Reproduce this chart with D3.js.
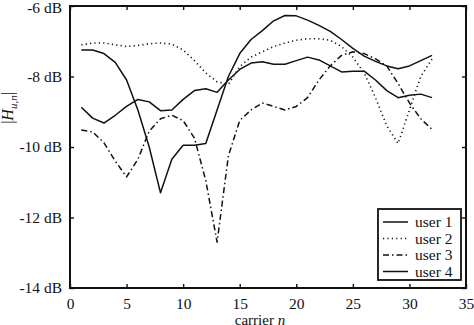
<!DOCTYPE html>
<html>
<head>
<meta charset="utf-8">
<script src="https://cdn.jsdelivr.net/npm/d3@7/dist/d3.min.js"></script>
<style>
  html, body { margin: 0; padding: 0; background: #fff; }
  svg { display: block; }
</style>
</head>
<body>
<svg id="chart" width="474" height="325"></svg>
<script>
// Carrier index 1..32
const carriers = d3.range(1, 33);

// Channel magnitude |H_{u,n}| in dB per carrier, one array per user
const user1 = [-7.25, -7.25, -7.35, -7.6, -8.1, -8.95, -10.0, -11.3, -10.35, -9.95,
               -9.95, -9.9, -8.95, -8.0, -7.35, -6.95, -6.7, -6.42, -6.27, -6.28,
               -6.4, -6.55, -6.72, -6.95, -7.2, -7.42, -7.57, -7.7, -7.78, -7.7,
               -7.55, -7.4];
const user2 = [-7.1, -7.05, -7.05, -7.1, -7.15, -7.12, -7.07, -7.05, -7.08, -7.25,
               -7.55, -7.9, -8.15, -8.22, -7.72, -7.45, -7.3, -7.15, -7.05, -6.97,
               -6.93, -6.93, -6.97, -7.15, -7.45, -7.9, -8.6, -9.4, -9.9, -8.95,
               -8.0, -7.5];
const user3 = [-9.52, -9.57, -9.88, -10.4, -10.85, -10.35, -9.55, -9.2, -9.1, -9.25,
               -9.75, -10.95, -12.7, -10.25, -9.25, -8.95, -8.75, -8.85, -8.95, -8.85,
               -8.6, -8.1, -7.7, -7.4, -7.3, -7.35, -7.5, -7.7, -8.2, -8.75,
               -9.2, -9.5];
const user4 = [-8.87, -9.18, -9.32, -9.1, -8.85, -8.65, -8.72, -8.97, -8.95, -8.65,
               -8.4, -8.35, -8.45, -8.1, -7.8, -7.62, -7.58, -7.65, -7.65, -7.55,
               -7.45, -7.53, -7.7, -7.87, -7.85, -7.85, -8.1, -8.4, -8.6, -8.53,
               -8.5, -8.6];

const seriesNames = ["user 1", "user 2", "user 3", "user 4"];
const seriesValues = [user1, user2, user3, user4];

const xTicks = [0, 5, 10, 15, 20, 25, 30, 35];
const yTicks = [-6, -8, -10, -12, -14];
const yTickLabels = ["-6 dB", "-8 dB", "-10 dB", "-12 dB", "-14 dB"];

// line dash style per user
const dashes = [null, "1.2,3.2", "6,3,1.5,3", null];

const FONT = "\"Liberation Serif\"";

const svg = d3.select("#chart");
const m = { left: 70, right: 8, top: 6, bottom: 37 };
const W = 474, H = 325;
const iw = W - m.left - m.right, ih = H - m.top - m.bottom;

const x = d3.scaleLinear().domain([0, 35]).range([m.left, m.left + iw]);
const y = d3.scaleLinear().domain([-14, -6]).range([m.top + ih, m.top]);

const g = svg.append("g");

// Curves
const line = d3.line().x((d, i) => x(carriers[i])).y(d => y(d));
seriesValues.forEach((vals, k) => {
  g.append("path")
    .datum(vals)
    .attr("d", line)
    .attr("fill", "none")
    .attr("stroke", "#111")
    .attr("stroke-width", k === 1 ? 1.6 : 1.5)
    .attr("stroke-linejoin", "round")
    .attr("stroke-dasharray", dashes[k]);
});

// Axes: inward ticks on all four sides
const tick = 4;
const axisB = d3.axisBottom(x).tickValues(xTicks).tickSize(-tick).tickPadding(10).tickFormat(d3.format("d"));
const axisT = d3.axisTop(x).tickValues(xTicks).tickSize(-tick).tickFormat("");
const axisL = d3.axisLeft(y).tickValues(yTicks).tickSize(-tick).tickPadding(8)
  .tickFormat((d, i) => yTickLabels[i]);
const axisR = d3.axisRight(y).tickValues(yTicks).tickSize(-tick).tickFormat("");

function styleAxis(sel) {
  sel.attr("font-family", FONT).attr("font-size", 15.5);
  sel.select(".domain").remove();
  sel.selectAll(".tick line").attr("stroke", "#111").attr("stroke-width", 1.4);
  sel.selectAll(".tick text").attr("fill", "#111");
}
g.append("g").attr("transform", `translate(0,${m.top + ih})`).call(axisB).call(styleAxis);
g.append("g").attr("transform", `translate(0,${m.top})`).call(axisT).call(styleAxis);
g.append("g").attr("transform", `translate(${m.left},0)`).call(axisL).call(styleAxis);
g.append("g").attr("transform", `translate(${m.left + iw},0)`).call(axisR).call(styleAxis);

// Keep the top y label inside the view
g.selectAll("text").filter(function () { return this.textContent === "-6 dB"; })
  .attr("dy", "0.45em");

// Frame
g.append("rect")
  .attr("x", m.left).attr("y", m.top).attr("width", iw).attr("height", ih)
  .attr("fill", "none").attr("stroke", "#111").attr("stroke-width", 2);

// Axis titles
const xt = g.append("text")
  .attr("x", 260).attr("y", 325)
  .attr("text-anchor", "middle")
  .attr("font-family", FONT)
  .attr("font-size", 15)
  .attr("fill", "#111");
xt.append("tspan").text("carrier ");
xt.append("tspan").attr("font-style", "italic").text("n");

const yt = g.append("text")
  .attr("transform", "translate(13,108) rotate(-90)")
  .attr("text-anchor", "middle")
  .attr("font-family", FONT)
  .attr("font-size", 16)
  .attr("fill", "#111");
yt.append("tspan").text("|");
yt.append("tspan").attr("font-style", "italic").text("H");
yt.append("tspan").attr("dy", 4).attr("font-size", 11).attr("font-style", "italic").text("u,n");
yt.append("tspan").attr("dy", -4).text("|");

// Legend
const lg = g.append("g");
const lx = 378, ly = 209, lw = 83, lh = 71;
lg.append("rect")
  .attr("x", lx).attr("y", ly).attr("width", lw).attr("height", lh)
  .attr("fill", "#fff").attr("stroke", "#111").attr("stroke-width", 1.8);
seriesNames.forEach((name, k) => {
  const cy = ly + 13 + k * 16.5;
  lg.append("line")
    .attr("x1", lx + 5).attr("x2", lx + 30).attr("y1", cy).attr("y2", cy)
    .attr("stroke", "#111").attr("stroke-width", 1.5)
    .attr("stroke-dasharray", dashes[k]);
  lg.append("text")
    .attr("x", lx + 37).attr("y", cy + 5)
    .attr("font-family", FONT)
    .attr("font-size", 15.5)
    .attr("fill", "#111")
    .text(name);
});
</script>
</body>
</html>
